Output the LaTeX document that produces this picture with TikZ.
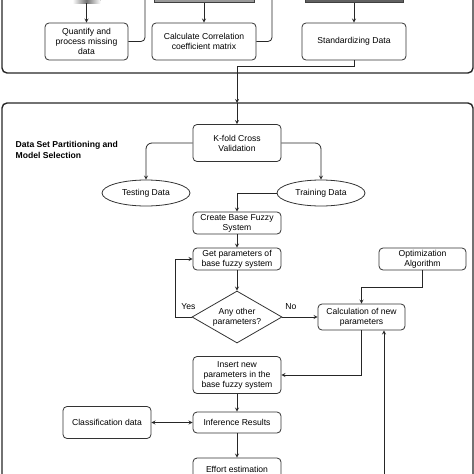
\documentclass[tikz,border=0pt]{standalone}
\usepackage{fontspec}
\setmainfont{Liberation Sans}
\usetikzlibrary{shapes.geometric, positioning, arrows}
\tikzset{
    >=stealth,
    every node/.style={font=\fontsize{8.6}{10}\selectfont, align=center},
    box/.style={draw=black!80, line width=0.8pt, rounded corners=4pt, fill=white, minimum width=88pt, inner sep=1pt},
    data/.style={draw=black!80, line width=0.8pt, ellipse, minimum width=88pt, minimum height=26pt, inner sep=0pt},
    decision/.style={draw=black!80, line width=0.8pt, diamond, aspect=1.7, minimum width=90pt, minimum height=52pt, inner sep=0pt},
    top box/.style={draw=black!75, line width=0.8pt, fill=black!40, minimum height=24pt},
    frame/.style={draw=black!85, line width=1.4pt, rounded corners=5pt},
    flow/.style={->, draw=black!85, line width=0.8pt},
    title/.style={font=\bfseries\fontsize{8.6}{10.5}\selectfont, align=left, inner sep=0pt},
}

\begin{document}
\begin{tikzpicture}[x=1pt, y=-1pt]
    \useasboundingbox (0,0) rectangle (474,474);
    \clip (0,0) rectangle (474,474);

    % the two frames
    \draw[frame] (2,-30) rectangle (473,73);
    \draw[frame] (2,103) rectangle (473,530);

    % preprocessing row
    \node[box, minimum width=83pt, minimum height=37pt] (qmiss) at (86.5,41.5) {Quantify and\\process missing\\data};
    \node[box, minimum width=104pt, minimum height=37pt, right of=qmiss, node distance=117.5pt] (corr) {Calculate Correlation\\coefficient matrix};
    \node[box, minimum width=104pt, minimum height=37pt, right of=corr, node distance=150pt] (std) {Standardizing Data};
    \node[top box, draw=none, minimum width=28pt, left color=white, right color=white, middle color=black!55, above of=qmiss, node distance=50.5pt] (rawdata) {};
    \node[top box, minimum width=100pt, above of=corr, node distance=51pt] (clean) {};
    \node[top box, fill=black!62, minimum width=98pt, above of=std, node distance=51pt] (corrsel) {};

    \coordinate (up1) at (145,-20);
    \coordinate (up2) at (272,-20);
    \coordinate (fin) at (237,103);
    \coordinate (fb) at (384,520);

    % partitioning and model selection
    \node[title, anchor=north west] (ttl) at (15.5,141.5) {Data Set Partitioning and\\Model Selection};
    \node[box, minimum height=37pt] (kfold) at (237,143) {K-fold Cross\\Validation};
    \node[data, below of=kfold, node distance=50pt, xshift=-91pt] (testing) {Testing Data};
    \node[data, below of=kfold, node distance=50pt, xshift=84pt] (training) {Training Data};
    \node[box, minimum height=22pt, below of=kfold, node distance=80pt] (create) {Create Base Fuzzy\\System};
    \node[box, minimum height=22pt, below of=create, node distance=36pt] (getpar) {Get parameters of\\base fuzzy system};
    \node[decision, below of=getpar, node distance=58pt] (anyother) {Any other\\parameters?};
    \node[box, minimum width=87pt, minimum height=22pt, right of=getpar, node distance=185.5pt] (optim) {Optimization\\Algorithm};
    \node[box, minimum width=87pt, minimum height=26pt, right of=anyother, node distance=124.5pt] (calc) {Calculation of new\\parameters};
    \node[box, minimum height=37pt, below of=anyother, node distance=58pt] (insert) {Insert new\\parameters in the\\base fuzzy system};
    \node[box, minimum height=21pt, below of=insert, node distance=47.5pt] (infer) {Inference Results};
    \node[box, minimum height=32pt, left of=infer, node distance=130pt] (classif) {Classification data};
    \node[box, minimum height=22pt, below of=infer, node distance=46.5pt] (effort) {Effort estimation};

    \draw[flow] (rawdata) -- (qmiss);
    \draw[flow] (clean) -- (corr);
    \draw[flow] (corrsel) -- (std);
    \draw[flow, rounded corners=4pt] (qmiss) -| (up1);
    \draw[flow, rounded corners=4pt] (corr) -| (up2);
    \draw[flow] (std.south) -- ++(0,6) -| (fin);
    \draw[flow] (fin) -- (kfold);

    \draw[flow, rounded corners=6pt] (kfold) -| (testing);
    \draw[flow, rounded corners=6pt] (kfold) -| (training);
    \draw[flow] (training) -| (create);
    \draw[flow] (create) -- (getpar);
    \draw[flow] (getpar) -- (anyother);
    \draw[flow] (anyother.west) -- node[pos=0.2, above=4pt] {Yes} ++(-16,0) |- (getpar);
    \draw[flow] (anyother) -- node[pos=0.24, above=4pt] {No} (calc);
    \draw[flow] (optim.south) -- ++(0,17) -| (calc);
    \draw[flow] (calc) |- (insert);
    \draw[flow] (fb) -- (calc.south -| fb);
    \draw[flow] (insert) -- (infer);
    \draw[flow] (infer) -- (effort);
    \draw[flow, <->] (classif) -- (infer);
\end{tikzpicture}
\end{document}
